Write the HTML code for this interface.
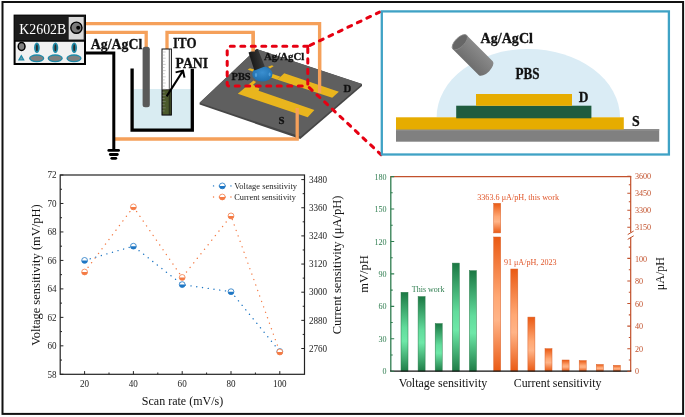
<!DOCTYPE html>
<html><head><meta charset="utf-8"><title>Figure</title>
<style>html,body{margin:0;padding:0;background:#fff}svg{display:block}text{font-family:"Liberation Serif",serif}</style></head><body>
<svg width="685" height="417" viewBox="0 0 685 417">
<defs>
<linearGradient id="gg" x1="0" y1="0" x2="0" y2="1"><stop offset="0" stop-color="#1b7843"/><stop offset="0.45" stop-color="#62dc9c"/><stop offset="0.62" stop-color="#6ee8a8"/><stop offset="1" stop-color="#1f7d47"/></linearGradient>
<linearGradient id="og" x1="0" y1="0" x2="0" y2="1"><stop offset="0" stop-color="#ea5a14"/><stop offset="0.45" stop-color="#ffa874"/><stop offset="0.62" stop-color="#ffb488"/><stop offset="1" stop-color="#ea5a14"/></linearGradient>
<linearGradient id="cyl" x1="0" y1="0" x2="0" y2="1"><stop offset="0" stop-color="#8a8a8a"/><stop offset="0.5" stop-color="#7c7c7c"/><stop offset="1" stop-color="#6e6e6e"/></linearGradient>
<radialGradient id="drop" cx="0.5" cy="0.4" r="0.6"><stop offset="0" stop-color="#3a8fd0"/><stop offset="1" stop-color="#1f6fae"/></radialGradient>
<linearGradient id="blk" x1="0" y1="0.3" x2="1" y2="0"><stop offset="0" stop-color="#161616"/><stop offset="1" stop-color="#444"/></linearGradient>
</defs>
<rect x="0" y="0" width="685" height="417" fill="#fff"/>
<rect x="2.5" y="2" width="680.6" height="411.9" fill="none" stroke="#111" stroke-width="2"/>
<g fill="none" stroke="#f5a05a" stroke-width="3.3" stroke-linejoin="miter">
<path d="M86 23.6 H319.6 V93"/>
<path d="M86 32.3 H146.2 V48"/>
<path d="M167 50 V32.3 H253.2 V51.5"/>
<path d="M113 139 H297.2 V108"/>
</g>
<path d="M86 53 H113.8 V150" fill="none" stroke="#000" stroke-width="3"/>
<g stroke="#000" stroke-width="2.8" stroke-linecap="round"><path d="M108.8 150.4 H118.6"/><path d="M110.3 154.5 H117.3"/><path d="M111.8 158.3 H115.8"/></g>
<rect x="14.6" y="15.6" width="70.4" height="48.4" fill="#f1f1f1" stroke="#000" stroke-width="2"/>
<rect x="14.5" y="15.5" width="70.6" height="25.4" fill="#1c1c1c"/>
<rect x="68.7" y="17" width="15" height="22.5" fill="#d9d9d9"/>
<path d="M14 41 H86" stroke="#000" stroke-width="1.4"/>
<circle cx="76.4" cy="27.7" r="5.6" fill="#7a7a7a" stroke="#000" stroke-width="1.4"/><circle cx="78.2" cy="27.7" r="2" fill="#000"/>
<ellipse cx="21.6" cy="46.5" rx="3.4" ry="3.95" fill="#808080" stroke="#000" stroke-width="1.5"/>
<path d="M21.3 55.6 L23.7 59.8 H18.9 Z" fill="#6f9aa6" stroke="#1f8aa8" stroke-width="1.2" stroke-linejoin="miter"/>
<ellipse cx="36.900000000000006" cy="47.8" rx="2.85" ry="5.2" fill="#2089a6"/>
<ellipse cx="36.900000000000006" cy="47.8" rx="0.95" ry="3.5" fill="#2b2b2b"/>
<ellipse cx="36.7" cy="58.3" rx="6.95" ry="3.3" fill="#808080" stroke="#1f8aa8" stroke-width="1.3"/>
<ellipse cx="55.400000000000006" cy="47.8" rx="2.85" ry="5.2" fill="#2089a6"/>
<ellipse cx="55.400000000000006" cy="47.8" rx="0.95" ry="3.5" fill="#2b2b2b"/>
<ellipse cx="55.2" cy="58.3" rx="6.95" ry="3.3" fill="#808080" stroke="#1f8aa8" stroke-width="1.3"/>
<ellipse cx="74.2" cy="47.8" rx="2.85" ry="5.2" fill="#2089a6"/>
<ellipse cx="74.2" cy="47.8" rx="0.95" ry="3.5" fill="#2b2b2b"/>
<ellipse cx="74" cy="58.3" rx="6.95" ry="3.3" fill="#808080" stroke="#1f8aa8" stroke-width="1.3"/>
<text x="19.3" y="34.1" font-size="15.5" fill="#fff" textLength="47" lengthAdjust="spacingAndGlyphs">K2602B</text>
<rect x="133.5" y="89" width="57.5" height="40" fill="#d9ecf2"/>
<path d="M132.1 68.4 V130.1 H192.3 V68.8" fill="none" stroke="#000" stroke-width="3.3" stroke-linejoin="miter"/>
<rect x="142.6" y="46.8" width="7.2" height="60.4" rx="2.5" fill="#595959"/>
<rect x="162" y="49" width="9.4" height="66" fill="#fff" stroke="#111" stroke-width="1"/>
<rect x="162.3" y="89.8" width="8.8" height="25" fill="#4b5a2c" stroke="#111" stroke-width="0.8"/>
<path d="M169.3 49 V115" stroke="#111" stroke-width="0.7"/>
<path d="M162.5 52.0 h3.2M162.5 55.1 h2.2M162.5 58.2 h3.2M162.5 61.3 h2.2M162.5 64.4 h3.2M162.5 67.5 h2.2M162.5 70.6 h3.2M162.5 73.7 h2.2M162.5 76.8 h3.2M162.5 79.9 h2.2M162.5 83.0 h3.2M162.5 86.1 h2.2M162.5 89.2 h3.2M162.5 92.3 h2.2M162.5 95.4 h3.2M162.5 98.5 h2.2M162.5 101.6 h3.2M162.5 104.7 h2.2M162.5 107.8 h3.2M162.5 110.9 h2.2" stroke="#999" stroke-width="0.5"/>
<path d="M166.6 96.4 L182.6 71.4 M175.6 72.4 L183 70.6 L184.5 77.6" fill="none" stroke="#000" stroke-width="2" stroke-linejoin="miter"/>
<g font-weight="bold" fill="#111" stroke="#111" stroke-width="0.3">
<text x="90.8" y="48.6" font-size="14.5" textLength="51.5" lengthAdjust="spacingAndGlyphs">Ag/AgCl</text>
<text x="173" y="47.6" font-size="14" textLength="23.5" lengthAdjust="spacingAndGlyphs">ITO</text>
<text x="175.6" y="67.8" font-size="14" textLength="32.5" lengthAdjust="spacingAndGlyphs">PANI</text>
</g>
<polygon points="199.6,104.6 300.3,139 362,86 362,84 256.5,49 199.6,102.7" fill="#464646"/>
<polygon points="199.6,102.7 256.5,49 362,84 300.6,136.6" fill="#5f5f5f"/>
<polygon points="284.2,73.2 338.9,91.7 332.2,97.8 277.4,79.8" fill="#e9b51d"/>
<polygon points="277.4,79.8 280.6,76.7 264,71 261,74" fill="#e9b51d"/>
<polygon points="247.6,69.6 250,68.2 255,69.8 252.4,71.4" fill="#e9b51d"/>
<polygon points="268,66.8 272,65.3 273.6,66.3 270,68.6" fill="#e9b51d"/>
<polygon points="237.8,93.8 250.2,83.2 259.4,88.4 258.6,90.8 314.4,110.1 307.7,117.2" fill="#e9b51d"/>
<polygon points="249.6,84 253.4,80.4 256,82 252.4,85.4" fill="#e9b51d"/>
<g fill="none" stroke="#f5a05a" stroke-width="3.3"><path d="M319.6 40 V93"/><path d="M297.2 139 V108"/></g>
<ellipse cx="262.4" cy="74" rx="10.2" ry="7.4" fill="url(#drop)"/>
<ellipse cx="256" cy="75" rx="1.2" ry="2" fill="#5aa6e0" opacity="0.8"/><ellipse cx="269.6" cy="74.4" rx="1" ry="1.8" fill="#5aa6e0" opacity="0.8"/>
<polygon points="248.5,52.6 257.8,49 264.8,66.4 254.4,70.4" fill="url(#blk)"/>
<path d="M253.2 32.3 V51.5" stroke="#f5a05a" stroke-width="3.3"/>
<g font-weight="bold" fill="#111" stroke="#111" stroke-width="0.3">
<text x="264" y="60.2" font-size="10.5" textLength="40.4" lengthAdjust="spacingAndGlyphs">Ag/AgCl</text>
<text x="231.5" y="80.4" font-size="10.5" textLength="19.2" lengthAdjust="spacingAndGlyphs">PBS</text>
<text x="343.4" y="92.1" font-size="10.8">D</text>
<text x="278.6" y="124" font-size="10.8">S</text>
</g>
<g fill="none" stroke="#e60012" stroke-width="3.05" stroke-dasharray="4 6.5" stroke-linecap="round">
<path d="M307.8 46.3 H229.2 Q227.2 46.3 227.2 48.3 V84 Q227.2 86 229.2 86 H305.8 Q307.8 86 307.8 84 V48.3"/>
<path d="M310 45.3 L379.5 12.2"/>
<path d="M309.3 87.6 L381 154.6"/>
</g>
<rect x="381.8" y="11.4" width="287.1" height="143.1" fill="#fff" stroke="#3fa2c5" stroke-width="2.3"/>
<path d="M436.6 117.3 A91.7 68.3 0 0 1 620 117.3 Z" fill="#daecf5"/>
<rect x="396" y="129" width="263.2" height="12.7" fill="#808080"/>
<rect x="396" y="129.3" width="263.2" height="1.3" fill="#929292"/>
<rect x="396" y="117.3" width="227.8" height="12.2" fill="#e6ac00"/>
<rect x="456.2" y="105.7" width="135.2" height="12.6" fill="#1f5c3f"/>
<rect x="476" y="94" width="96" height="11.8" fill="#e6ac00"/>
<g transform="translate(459.8 42.2) rotate(45)">
<path d="M0 -9.8 H36.8 A4.5 9.8 0 0 1 36.8 9.8 H0 Z" fill="url(#cyl)"/>
<ellipse cx="0" cy="0" rx="4.6" ry="9.8" fill="#666" stroke="#8a8a8a" stroke-width="0.8"/>
</g>
<g font-weight="bold" fill="#111" stroke="#111" stroke-width="0.3">
<text x="480.6" y="43.2" font-size="14" textLength="52.4" lengthAdjust="spacingAndGlyphs">Ag/AgCl</text>
<text x="515.5" y="78.8" font-size="16" textLength="24" lengthAdjust="spacingAndGlyphs">PBS</text>
<text x="578.7" y="101.8" font-size="15.5" textLength="9.7" lengthAdjust="spacingAndGlyphs">D</text>
<text x="632" y="125.6" font-size="15.5" textLength="7.7" lengthAdjust="spacingAndGlyphs">S</text>
</g>
<rect x="60.2" y="175" width="244.3" height="199.3" fill="none" stroke="#222" stroke-width="1.2"/>
<path d="M60.2 374.30 h3.2M60.2 360.06 h1.8M60.2 345.83 h3.2M60.2 331.59 h1.8M60.2 317.36 h3.2M60.2 303.12 h1.8M60.2 288.89 h3.2M60.2 274.65 h1.8M60.2 260.41 h3.2M60.2 246.18 h1.8M60.2 231.94 h3.2M60.2 217.71 h1.8M60.2 203.47 h3.2M60.2 189.24 h1.8M60.2 175.00 h3.2M84.60 374.3 v-3.2M109.00 374.3 v-1.8M133.40 374.3 v-3.2M157.80 374.3 v-1.8M182.20 374.3 v-3.2M206.60 374.3 v-1.8M231.00 374.3 v-3.2M255.40 374.3 v-1.8M279.80 374.3 v-3.2M304.5 348.50 h-3.2M304.5 334.42 h-1.8M304.5 320.35 h-3.2M304.5 306.27 h-1.8M304.5 292.20 h-3.2M304.5 278.12 h-1.8M304.5 264.05 h-3.2M304.5 249.97 h-1.8M304.5 235.90 h-3.2M304.5 221.82 h-1.8M304.5 207.75 h-3.2M304.5 193.67 h-1.8M304.5 179.60 h-3.2" stroke="#222" stroke-width="1" fill="none"/>
<g font-size="9.5" fill="#222">
<text x="47.5" y="377.5" textLength="9.1" lengthAdjust="spacingAndGlyphs">58</text>
<text x="47.5" y="349.0" textLength="9.1" lengthAdjust="spacingAndGlyphs">60</text>
<text x="47.5" y="320.6" textLength="9.1" lengthAdjust="spacingAndGlyphs">62</text>
<text x="47.5" y="292.1" textLength="9.1" lengthAdjust="spacingAndGlyphs">64</text>
<text x="47.5" y="263.6" textLength="9.1" lengthAdjust="spacingAndGlyphs">66</text>
<text x="47.5" y="235.1" textLength="9.1" lengthAdjust="spacingAndGlyphs">68</text>
<text x="47.5" y="206.7" textLength="9.1" lengthAdjust="spacingAndGlyphs">70</text>
<text x="47.5" y="178.2" textLength="9.1" lengthAdjust="spacingAndGlyphs">72</text>
<text x="80.0" y="386.5" textLength="9.1" lengthAdjust="spacingAndGlyphs">20</text>
<text x="128.8" y="386.5" textLength="9.1" lengthAdjust="spacingAndGlyphs">40</text>
<text x="177.6" y="386.5" textLength="9.1" lengthAdjust="spacingAndGlyphs">60</text>
<text x="226.4" y="386.5" textLength="9.1" lengthAdjust="spacingAndGlyphs">80</text>
<text x="273.0" y="386.5" textLength="13.6" lengthAdjust="spacingAndGlyphs">100</text>
<text x="308.9" y="351.7" textLength="18.2" lengthAdjust="spacingAndGlyphs">2760</text>
<text x="308.9" y="323.6" textLength="18.2" lengthAdjust="spacingAndGlyphs">2880</text>
<text x="308.9" y="295.4" textLength="18.2" lengthAdjust="spacingAndGlyphs">3000</text>
<text x="308.9" y="267.2" textLength="18.2" lengthAdjust="spacingAndGlyphs">3120</text>
<text x="308.9" y="239.1" textLength="18.2" lengthAdjust="spacingAndGlyphs">3240</text>
<text x="308.9" y="210.9" textLength="18.2" lengthAdjust="spacingAndGlyphs">3360</text>
<text x="308.9" y="182.8" textLength="18.2" lengthAdjust="spacingAndGlyphs">3480</text>
</g>
<text x="182.5" y="404.7" font-size="12" text-anchor="middle" fill="#111">Scan rate (mV/s)</text>
<text transform="translate(40.3 275) rotate(-90)" font-size="12.5" text-anchor="middle" fill="#111">Voltage sensitivity (mV/pH)</text>
<text transform="translate(341 265) rotate(-90)" font-size="12.5" text-anchor="middle" fill="#111">Current sensitivity (μA/pH)</text>
<polyline points="84.6,272.0 133.4,206.9 182.2,277.4 231.0,215.9 279.8,352.0" fill="none" stroke="#f47b45" stroke-width="1.35" stroke-dasharray="0.1 5.7" stroke-linecap="round"/>
<polyline points="84.6,260.4 133.4,246.2 182.2,284.6 231.0,291.7 279.8,351.5" fill="none" stroke="#1f77c4" stroke-width="1.35" stroke-dasharray="0.1 5.7" stroke-linecap="round"/>
<circle cx="84.6" cy="260.4" r="2.9" fill="#fff" stroke="#1f77c4" stroke-width="0.8"/><path d="M81.7 260.4 A2.9 2.9 0 0 0 87.5 260.4 Z" fill="#1f77c4"/>
<circle cx="133.4" cy="246.2" r="2.9" fill="#fff" stroke="#1f77c4" stroke-width="0.8"/><path d="M130.5 246.2 A2.9 2.9 0 0 0 136.3 246.2 Z" fill="#1f77c4"/>
<circle cx="182.2" cy="284.6" r="2.9" fill="#fff" stroke="#1f77c4" stroke-width="0.8"/><path d="M179.3 284.6 A2.9 2.9 0 0 0 185.1 284.6 Z" fill="#1f77c4"/>
<circle cx="231.0" cy="291.7" r="2.9" fill="#fff" stroke="#1f77c4" stroke-width="0.8"/><path d="M228.1 291.7 A2.9 2.9 0 0 0 233.9 291.7 Z" fill="#1f77c4"/>
<circle cx="279.8" cy="351.5" r="2.9" fill="#fff" stroke="#1f77c4" stroke-width="0.8"/><path d="M276.9 351.5 A2.9 2.9 0 0 0 282.7 351.5 Z" fill="#1f77c4"/>
<circle cx="84.6" cy="272.0" r="2.9" fill="#fff" stroke="#f47b45" stroke-width="0.8"/><path d="M81.7 272.0 A2.9 2.9 0 0 0 87.5 272.0 Z" fill="#f47b45"/>
<circle cx="133.4" cy="206.9" r="2.9" fill="#fff" stroke="#f47b45" stroke-width="0.8"/><path d="M130.5 206.9 A2.9 2.9 0 0 0 136.3 206.9 Z" fill="#f47b45"/>
<circle cx="182.2" cy="277.4" r="2.9" fill="#fff" stroke="#f47b45" stroke-width="0.8"/><path d="M179.3 277.4 A2.9 2.9 0 0 0 185.1 277.4 Z" fill="#f47b45"/>
<circle cx="231.0" cy="215.9" r="2.9" fill="#fff" stroke="#f47b45" stroke-width="0.8"/><path d="M228.1 215.9 A2.9 2.9 0 0 0 233.9 215.9 Z" fill="#f47b45"/>
<circle cx="279.8" cy="352.0" r="2.9" fill="#fff" stroke="#f47b45" stroke-width="0.8"/><path d="M276.9 352.0 A2.9 2.9 0 0 0 282.7 352.0 Z" fill="#f47b45"/>
<path d="M213.5 185.9 h18" stroke="#1f77c4" stroke-width="1.35" stroke-dasharray="0.1 5.7" stroke-linecap="round"/>
<path d="M213.5 197 h18" stroke="#f47b45" stroke-width="1.35" stroke-dasharray="0.1 5.7" stroke-linecap="round"/>
<circle cx="222.3" cy="185.9" r="2.9" fill="#fff" stroke="#1f77c4" stroke-width="0.8"/><path d="M219.4 185.9 A2.9 2.9 0 0 0 225.2 185.9 Z" fill="#1f77c4"/>
<circle cx="222.3" cy="197.0" r="2.9" fill="#fff" stroke="#f47b45" stroke-width="0.8"/><path d="M219.4 197.0 A2.9 2.9 0 0 0 225.2 197.0 Z" fill="#f47b45"/>
<text x="234.3" y="188.6" font-size="8.3" fill="#222" textLength="62.7" lengthAdjust="spacingAndGlyphs">Voltage sensitivity</text>
<text x="234.3" y="199.7" font-size="8.3" fill="#222" textLength="61.5" lengthAdjust="spacingAndGlyphs">Current sensitivity</text>
<rect x="401.0" y="292.3" width="7" height="78.9" fill="url(#gg)" stroke="#2a7a4a" stroke-width="0.5"/>
<rect x="418.1" y="296.6" width="7" height="74.6" fill="url(#gg)" stroke="#2a7a4a" stroke-width="0.5"/>
<rect x="435.2" y="323.6" width="7" height="47.6" fill="url(#gg)" stroke="#2a7a4a" stroke-width="0.5"/>
<rect x="452.3" y="263.1" width="7" height="108.1" fill="url(#gg)" stroke="#2a7a4a" stroke-width="0.5"/>
<rect x="469.4" y="270.7" width="7" height="100.5" fill="url(#gg)" stroke="#2a7a4a" stroke-width="0.5"/>
<rect x="493.7" y="203.3" width="7" height="29.6" fill="url(#og)" stroke="#d9622a" stroke-width="0.5"/>
<rect x="493.7" y="237" width="7" height="134.2" fill="url(#og)" stroke="#d9622a" stroke-width="0.5"/>
<rect x="510.8" y="269.0" width="7" height="102.2" fill="url(#og)" stroke="#d9622a" stroke-width="0.5"/>
<rect x="527.9" y="317.1" width="7" height="54.1" fill="url(#og)" stroke="#d9622a" stroke-width="0.5"/>
<rect x="545.0" y="348.7" width="7" height="22.5" fill="url(#og)" stroke="#d9622a" stroke-width="0.5"/>
<rect x="562.1" y="360.0" width="7" height="11.2" fill="url(#og)" stroke="#d9622a" stroke-width="0.5"/>
<rect x="579.2" y="360.6" width="7" height="10.6" fill="url(#og)" stroke="#d9622a" stroke-width="0.5"/>
<rect x="596.3" y="364.5" width="7" height="6.7" fill="url(#og)" stroke="#d9622a" stroke-width="0.5"/>
<rect x="613.4" y="365.4" width="7" height="5.8" fill="url(#og)" stroke="#d9622a" stroke-width="0.5"/>
<path d="M390.8 176.6 V371.2" stroke="#2e7d4f" stroke-width="1.3" fill="none"/>
<path d="M390.2 176.6 H631.3000000000001" stroke="#c2512c" stroke-width="1.2" fill="none"/>
<path d="M630.7 176.6 V232.5 M630.7 237.6 V371.2" stroke="#c2512c" stroke-width="1.2" fill="none"/>
<path d="M390.2 371.2 H631.3000000000001" stroke="#111" stroke-width="1.3" fill="none"/>
<path d="M627.7 234.6 l6 -3.6 M627.7 239.4 l6 -3.6" stroke="#c2512c" stroke-width="1" fill="none"/>
<path d="M390.8 371.20 h3.4M390.8 354.98 h1.9M390.8 338.77 h3.4M390.8 322.55 h1.9M390.8 306.33 h3.4M390.8 290.12 h1.9M390.8 273.90 h3.4M390.8 257.68 h1.9M390.8 241.47 h3.4M390.8 225.25 h1.9M390.8 209.03 h3.4M390.8 192.82 h1.9M390.8 176.60 h3.4" stroke="#2e7d4f" stroke-width="1.1" fill="none"/>
<path d="M630.7 371.30 h-3.4M630.7 360.01 h-1.9M630.7 348.72 h-3.4M630.7 337.43 h-1.9M630.7 326.14 h-3.4M630.7 314.85 h-1.9M630.7 303.56 h-3.4M630.7 292.27 h-1.9M630.7 280.98 h-3.4M630.7 269.69 h-1.9M630.7 258.40 h-3.4M630.7 247.11 h-1.9M630.7 227.30 h-3.4M630.7 218.80 h-1.9M630.7 210.30 h-3.4M630.7 201.80 h-1.9M630.7 193.30 h-3.4M630.7 184.80 h-1.9M630.7 176.30 h-3.4" stroke="#c2512c" stroke-width="1.1" fill="none"/>
<g font-size="9.2" fill="#2e7d4f">
<text x="382.4" y="374.3" textLength="4.0" lengthAdjust="spacingAndGlyphs">0</text>
<text x="378.4" y="341.9" textLength="8.1" lengthAdjust="spacingAndGlyphs">30</text>
<text x="378.4" y="309.4" textLength="8.1" lengthAdjust="spacingAndGlyphs">60</text>
<text x="378.4" y="277.0" textLength="8.1" lengthAdjust="spacingAndGlyphs">90</text>
<text x="374.4" y="244.6" textLength="12.1" lengthAdjust="spacingAndGlyphs">120</text>
<text x="374.4" y="212.1" textLength="12.1" lengthAdjust="spacingAndGlyphs">150</text>
<text x="374.4" y="179.7" textLength="12.1" lengthAdjust="spacingAndGlyphs">180</text>
</g>
<g font-size="9.2" fill="#c2512c">
<text x="634.9" y="374.4" textLength="4.0" lengthAdjust="spacingAndGlyphs">0</text>
<text x="634.9" y="351.8" textLength="8.1" lengthAdjust="spacingAndGlyphs">20</text>
<text x="634.9" y="329.2" textLength="8.1" lengthAdjust="spacingAndGlyphs">40</text>
<text x="634.9" y="306.7" textLength="8.1" lengthAdjust="spacingAndGlyphs">60</text>
<text x="634.9" y="284.1" textLength="8.1" lengthAdjust="spacingAndGlyphs">80</text>
<text x="634.9" y="261.5" textLength="12.1" lengthAdjust="spacingAndGlyphs">100</text>
<text x="634.9" y="230.4" textLength="16.2" lengthAdjust="spacingAndGlyphs">3150</text>
<text x="634.9" y="213.4" textLength="16.2" lengthAdjust="spacingAndGlyphs">3300</text>
<text x="634.9" y="196.4" textLength="16.2" lengthAdjust="spacingAndGlyphs">3450</text>
<text x="634.9" y="179.4" textLength="16.2" lengthAdjust="spacingAndGlyphs">3600</text>
</g>
<text x="411.8" y="291.5" font-size="8.3" fill="#2e7d4f" textLength="32.7" lengthAdjust="spacingAndGlyphs">This work</text>
<text x="477.2" y="200.2" font-size="8.2" fill="#e0562a" textLength="81.8" lengthAdjust="spacingAndGlyphs">3363.6 μA/pH, this work</text>
<text x="503.9" y="265.2" font-size="8.2" fill="#e0562a" textLength="52.7" lengthAdjust="spacingAndGlyphs">91 μA/pH, 2023</text>
<text x="398.8" y="387.1" font-size="12" fill="#111" textLength="88.4" lengthAdjust="spacingAndGlyphs">Voltage sensitivity</text>
<text x="513.8" y="387.1" font-size="12" fill="#111" textLength="87.7" lengthAdjust="spacingAndGlyphs">Current sensitivity</text>
<text transform="translate(367.8 274) rotate(-90)" font-size="12.5" text-anchor="middle" fill="#111">mV/pH</text>
<text transform="translate(664.3 273.6) rotate(-90)" font-size="12" text-anchor="middle" fill="#111">μA/pH</text>
</svg></body></html>
